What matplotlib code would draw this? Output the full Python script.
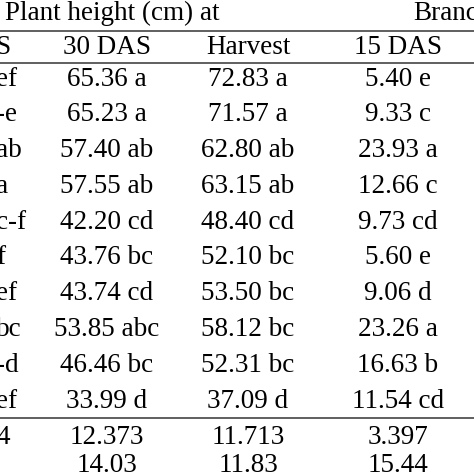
import matplotlib.pyplot as plt

# row fragments visible at left edge (cropped column)
left_frag = ["ef", "-e", "ab", "a", "c-f", "f", "ef", "bc", "-d", "ef"]
das30 = ["65.36 a", "65.23 a", "57.40 ab", "57.55 ab", "42.20 cd",
         "43.76 bc", "43.74 cd", "53.85 abc", "46.46 bc", "33.99 d"]
harvest = ["72.83 a", "71.57 a", "62.80 ab", "63.15 ab", "48.40 cd",
           "52.10 bc", "53.50 bc", "58.12 bc", "52.31 bc", "37.09 d"]
das15 = ["5.40 e", "9.33 c", "23.93 a", "12.66 c", "9.73 cd",
         "5.60 e", "9.06 d", "23.26 a", "16.63 b", "11.54 cd"]
cd_row = ["4", "12.373", "11.713", "3.397"]
cv_row = ["", "14.03", "11.83", "15.44"]

fig = plt.figure(figsize=(4.74, 4.74), dpi=100)
ax = fig.add_axes([0, 0, 1, 1])
ax.set_xlim(0, 474)
ax.set_ylim(474, 0)
ax.axis("off")
ff = ["Liberation Serif", "DejaVu Serif"]
fs = 19.5

ax.text(112, 13, "Plant height (cm) at", ha="center", va="center", fontsize=fs, family=ff)
ax.text(413, 13, "Branc", ha="left", va="center", fontsize=fs, family=ff)
ax.plot([0, 474], [31, 31], color="#444", lw=1.2)
ax.text(-5, 47, "S", ha="left", va="center", fontsize=fs, family=ff)
for x, h in [(107, "30 DAS"), (248, "Harvest"), (398, "15 DAS")]:
    ax.text(x, 47, h, ha="center", va="center", fontsize=fs, family=ff)
ax.plot([0, 474], [63, 63], color="#444", lw=1.2)

for i in range(len(das30)):
    y = 79 + i * 35.8
    ax.text(-4, y, left_frag[i], ha="left", va="center", fontsize=fs, family=ff)
    ax.text(107, y, das30[i], ha="center", va="center", fontsize=fs, family=ff)
    ax.text(248, y, harvest[i], ha="center", va="center", fontsize=fs, family=ff)
    ax.text(398, y, das15[i], ha="center", va="center", fontsize=fs, family=ff)

ax.plot([0, 474], [418, 418], color="#444", lw=1.2)
for y, row in [(437, cd_row), (465, cv_row)]:
    ax.text(-4, y, row[0], ha="left", va="center", fontsize=fs, family=ff)
    for x, v in zip([107, 248, 398], row[1:]):
        ax.text(x, y, v, ha="center", va="center", fontsize=fs, family=ff)

fig.savefig("out.png", dpi=100)
